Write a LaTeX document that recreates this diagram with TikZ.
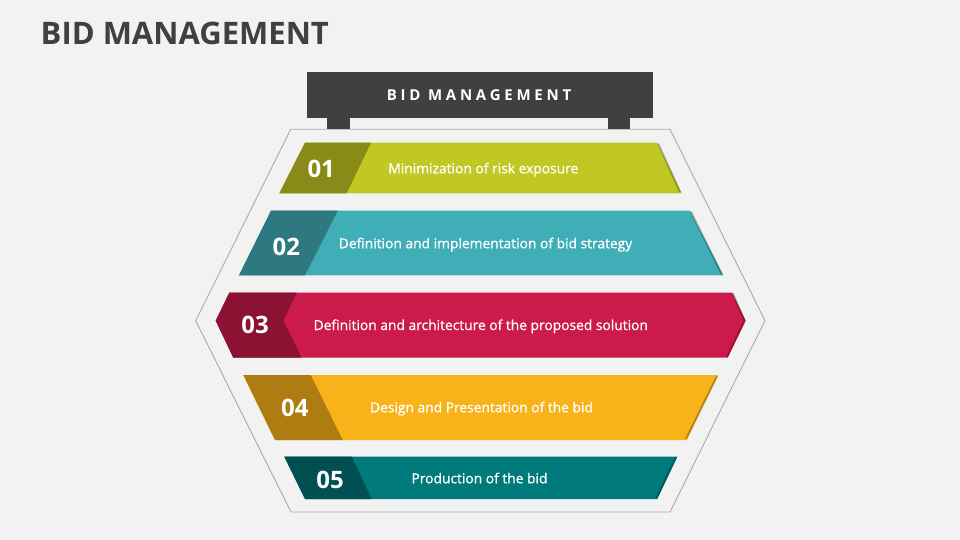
\documentclass[tikz,border=0pt]{standalone}
\usepackage{fontspec}
\setmainfont{Open Sans}
\newfontfamily\bandfont[FakeBold=0.8]{Open Sans}
\usepackage{tikz}
\usetikzlibrary{positioning}
\definecolor{bg}{HTML}{F2F2F2}
\definecolor{dark}{HTML}{404040}
\definecolor{hexline}{HTML}{ABABAB}
\definecolor{oneL}{HTML}{C2C823}
\definecolor{oneD}{HTML}{8A8A19}
\definecolor{twoL}{HTML}{40AEB7}
\definecolor{twoD}{HTML}{2E7880}
\definecolor{threeL}{HTML}{CC1A4A}
\definecolor{threeD}{HTML}{8B1232}
\definecolor{fourL}{HTML}{F8B31A}
\definecolor{fourD}{HTML}{AE7C10}
\definecolor{fiveL}{HTML}{007A7A}
\definecolor{fiveD}{HTML}{005052}
\tikzstyle{heading} = [anchor=base west, inner sep=0pt, text=dark, font=\bfseries\fontsize{31}{32}\selectfont]
\tikzstyle{titlebox} = [rectangle, fill=dark, minimum width=346pt, minimum height=45.4pt, inner sep=0pt, text=white, font=\bfseries\fontsize{15}{16}\selectfont\addfontfeatures{LetterSpace=25}]
\tikzstyle{leg} = [fill=dark]
\tikzstyle{hexa} = [draw=hexline, line width=0.9pt, fill=bg, line join=miter]
\tikzstyle{shade} = [draw=black, draw opacity=0.25, line width=2pt]
\tikzstyle{num} = [anchor=base, inner sep=0pt, text=white, font=\bfseries\fontsize{24}{25}\selectfont]
\tikzstyle{btext} = [anchor=base, inner sep=0pt, text=white, font=\bandfont\fontsize{13.8}{15}\selectfont]

\begin{document}
\begin{tikzpicture}[x=1pt, y=-1pt]

% canvas =====================================
\useasboundingbox (0,0) rectangle (960,540);
\fill[bg] (0,0) rectangle (960,540);

\node[heading] (head) at (40.5,45) {BID MANAGEMENT};

% frame and title ============================
\draw[hexa] (290.7,129.3) -- (670,129.3) -- (765,320.7) -- (670,512) -- (291,512) -- (195.7,320.7) -- cycle;
\node[titlebox] (title) at (480,95) {\hspace*{-2pt}BID MANAGEMENT};
\fill[leg] (327,117.5) rectangle (350,129.3);
\fill[leg] (608,117.5) rectangle (630,129.3);

% band 01
\fill[oneL] (305,142.7) -- (657.3,142.7) -- (681.7,193.3) -- (279.3,193.3) -- cycle;
\draw[shade] (658.3,143.7) -- (680.2,192.3);
\fill[oneD] (305,142.7) -- (371,142.7) -- (346.7,193.3) -- (279.3,193.3) -- cycle;
\node[num] (n1) at (321.2,177.3) {01};
\node[btext] (t1) at (483.3,173.3) {Minimization of risk exposure};

% band 02
\fill[twoL] (271,210.7) -- (690,210.7) -- (723.3,275.3) -- (239,275.3) -- cycle;
\draw[shade] (691,211.7) -- (721.8,274.3);
\fill[twoD] (271,210.7) -- (337.7,210.7) -- (305,275.3) -- (239,275.3) -- cycle;
\node[num] (n2) at (286.3,255) {02};
\node[btext] (t2) at (485.5,248.3) {Definition and implementation of bid strategy};

% band 03
\fill[threeL] (229.3,292.7) -- (732.3,292.7) -- (745.7,320.7) -- (727.7,357.7) -- (233.3,357.7) -- (215.7,320.7) -- cycle;
\draw[shade] (733,293.7) -- (744.5,320.7) -- (727,356.7);
\fill[threeD] (229.3,292.7) -- (296.7,292.7) -- (283.3,320.7) -- (301.7,357.7) -- (233.3,357.7) -- (215.7,320.7) -- cycle;
\node[num] (n3) at (255,333.3) {03};
\node[btext] (t3) at (480.8,330) {Definition and architecture of the proposed solution};

% band 04
\fill[fourL] (243.3,375) -- (718.3,375) -- (686.7,440) -- (275,440) -- cycle;
\draw[shade] (717,376) -- (686,439);
\fill[fourD] (243.3,375) -- (310.7,375) -- (342.7,440) -- (275,440) -- cycle;
\node[num] (n4) at (294.8,416.7) {04};
\node[btext] (t4) at (481.5,412.3) {Design and Presentation of the bid};

% band 05
\fill[fiveL] (284.3,456.7) -- (677.3,456.7) -- (657.3,499) -- (305,499) -- cycle;
\draw[shade] (676,457.7) -- (656.6,498);
\fill[fiveD] (284.3,456.7) -- (351.7,456.7) -- (371.7,499) -- (305,499) -- cycle;
\node[num] (n5) at (330,488.3) {05};
\node[btext] (t5) at (479.5,483.3) {Production of the bid};

\end{tikzpicture}
\end{document}
